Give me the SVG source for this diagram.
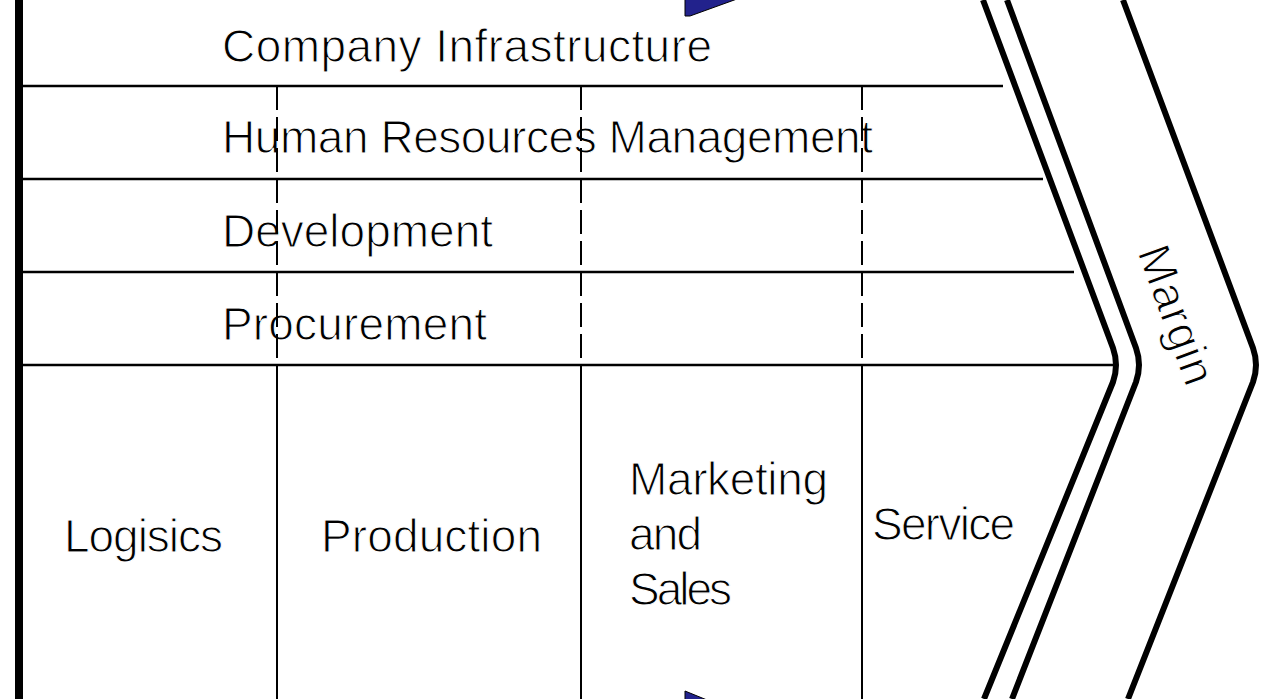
<svg xmlns="http://www.w3.org/2000/svg" width="1276" height="699" viewBox="0 0 1276 699">
<style>
.t{font-family:"Liberation Sans",Arial,sans-serif;font-size:46px;fill:#000;stroke:#fff;stroke-width:1.1}
.h{stroke:#000;stroke-width:2.5;fill:none}
.v{stroke:#000;stroke-width:2;fill:none}
.d{stroke:#000;stroke-width:2;fill:none;stroke-dasharray:24 7}
.c{stroke:#000;stroke-width:6;fill:none;stroke-linejoin:round}
.b{fill:#22228c;stroke:#000;stroke-width:1}
</style>
<rect width="1276" height="699" fill="#fff"/>
<g id="infrastructure"><text class="t" x="222" y="62" textLength="490" lengthAdjust="spacing">Company Infrastructure</text></g>
<g id="hrm"><text class="t" x="222" y="153" textLength="651" lengthAdjust="spacing">Human Resources Management</text></g>
<g id="development"><text class="t" x="222" y="247" textLength="271" lengthAdjust="spacing">Development</text></g>
<g id="procurement"><text class="t" x="222" y="340" textLength="265" lengthAdjust="spacing">Procurement</text></g>
<g id="logistics"><text class="t" x="64" y="552" textLength="159" lengthAdjust="spacing">Logisics</text></g>
<g id="production"><text class="t" x="321" y="552" textLength="221" lengthAdjust="spacing">Production</text></g>
<g id="marketing"><text class="t" x="629" y="495" textLength="199" lengthAdjust="spacing">Marketing</text><text class="t" x="629" y="550" textLength="73" lengthAdjust="spacing">and</text><text class="t" x="629" y="605" textLength="103" lengthAdjust="spacing">Sales</text></g>
<g id="service"><text class="t" x="872" y="540" textLength="143" lengthAdjust="spacing">Service</text></g>
<g id="connectors">
<line x1="19" y1="0" x2="19" y2="699" stroke="#000" stroke-width="8"/>
<line class="h" x1="22" y1="86" x2="1003" y2="86"/>
<line class="h" x1="22" y1="179" x2="1043" y2="179"/>
<line class="h" x1="22" y1="272" x2="1074" y2="272"/>
<line class="h" x1="22" y1="365" x2="1114" y2="365"/>
<line class="d" x1="277" y1="86" x2="277" y2="365"/>
<line class="d" x1="581" y1="86" x2="581" y2="365"/>
<line class="d" x1="862" y1="86" x2="862" y2="365"/>
<line class="v" x1="277" y1="365" x2="277" y2="699"/>
<line class="v" x1="581" y1="365" x2="581" y2="699"/>
<line class="v" x1="862" y1="365" x2="862" y2="699"/>
</g>
<g id="margin">
<path class="c" d="M983,0 L1113,348 Q1119,365 1113,382 L984,699"/>
<path class="c" d="M1007,0 L1136,348 Q1142,365 1136,382 L1012,699"/>
<path class="c" d="M1123,0 L1253,348 Q1259,365 1253,382 L1128,699"/>
<text class="t" transform="translate(1137,252) rotate(70)" textLength="145" lengthAdjust="spacing">Margin</text>
</g>
<g id="arrow-top"><polygon class="b" points="685,-1 737,-1 690,16 685,16"/></g>
<g id="arrow-bottom"><polygon class="b" points="685,691 707,700 685,700"/></g>
</svg>
